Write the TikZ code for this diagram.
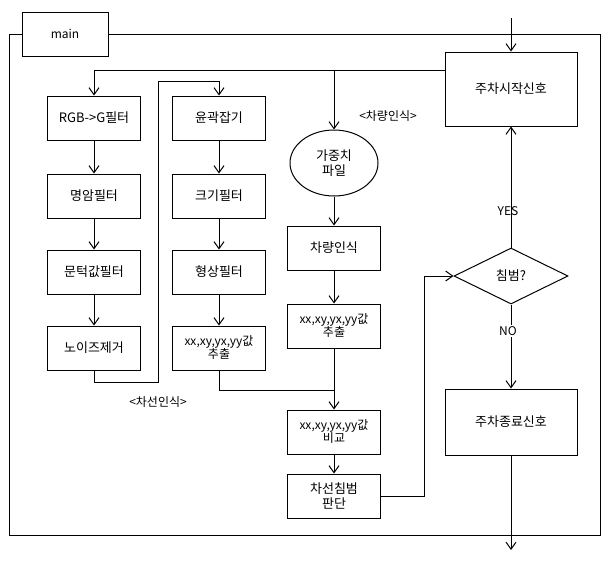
\documentclass[tikz,border=0pt]{standalone}
\usepackage{fontspec}
\setmainfont{Noto Sans CJK KR}
\usetikzlibrary{shapes.geometric,arrows.meta}
\begin{document}
\begin{tikzpicture}[x=1pt,y=-1pt,line width=1pt,
 box/.style={draw,rectangle,minimum width=93pt,minimum height=44pt,align=center,font=\fontsize{13}{15}\selectfont},
 big/.style={draw,rectangle,minimum width=132pt,minimum height=74pt,align=center,font=\fontsize{13}{15}\selectfont},
 arr/.style={-{Straight Barb[length=7pt,width=10pt]}},
 lab/.style={font=\fontsize{12}{14}\selectfont}]
\useasboundingbox (0,0) rectangle (610,560);
\draw (9,34) rectangle (600,535);
\node[draw,fill=white,minimum width=86pt,minimum height=44pt,font=\fontsize{12}{14}\selectfont] (main) at (65,34) {main};
\node[big] (start) at (511,89) {주차시작신호};
\node[big,minimum height=66pt] (end) at (511,422) {주차종료신호};
\node[draw,diamond,minimum width=114pt,minimum height=56pt,aspect=2,inner sep=0pt,font=\fontsize{13}{15}\selectfont] (dia) at (511,276) {침범?};
\node[box] (c11) at (94,118) {RGB->G필터};
\node[box] (c12) at (94,196) {명암필터};
\node[box] (c13) at (94,272) {문턱값필터};
\node[box] (c14) at (94,348) {노이즈제거};
\node[box] (c21) at (219,118) {윤곽잡기};
\node[box] (c22) at (219,196) {크기필터};
\node[box] (c23) at (219,272) {형상필터};
\node[box,font=\fontsize{12}{13}\selectfont] (c24) at (219,348) {xx,xy,yx,yy값\\추출};
\node[draw,ellipse,minimum width=88pt,minimum height=66pt,align=center,font=\fontsize{13}{15}\selectfont] (ell) at (334,163) {가중치\\파일};
\node[box] (c31) at (334,248) {차량인식};
\node[box,font=\fontsize{12}{13}\selectfont] (c32) at (334,326) {xx,xy,yx,yy값\\추출};
\node[box,font=\fontsize{12}{13}\selectfont] (c33) at (334,432) {xx,xy,yx,yy값\\비교};
\node[box] (c34) at (334,496) {차선침범\\판단};
\coordinate (tin) at (511,18);
\coordinate (tout) at (511,550);
\draw[arr] (tin) -- (start.north);
\draw[arr] (start.west |- 0,70) -| (c11.north);
\draw[arr] (334,70) -- (ell.north);
\draw[arr] (c11) -- (c12);
\draw[arr] (c12) -- (c13);
\draw[arr] (c13) -- (c14);
\draw[arr] (c14.south) -- (94,382) -- (158,382) -- (158,81) -| (c21.north);
\draw[arr] (c21) -- (c22);
\draw[arr] (c22) -- (c23);
\draw[arr] (c23) -- (c24);
\draw[arr] (ell) -- (c31);
\draw[arr] (c31) -- (c32);
\draw[arr] (c32) -- (c33);
\draw (c24.south) |- (334,390);
\draw[arr] (c33) -- (c34);
\draw[arr] (c34.east) -- (424,496) |- (dia.west);
\draw[arr] (dia.north) -- (start.south);
\draw[arr] (dia.south) -- (end.north);
\draw[arr] (end.south) -- (tout);
\node[lab] (yes) at (508,211) {YES};
\node[lab,fill=white,inner sep=1pt] (no) at (508,331) {NO};
\node[lab] (l1) at (388,116) {<차량인식>};
\node[lab] (l2) at (158,402) {<차선인식>};
\end{tikzpicture}
\end{document}
